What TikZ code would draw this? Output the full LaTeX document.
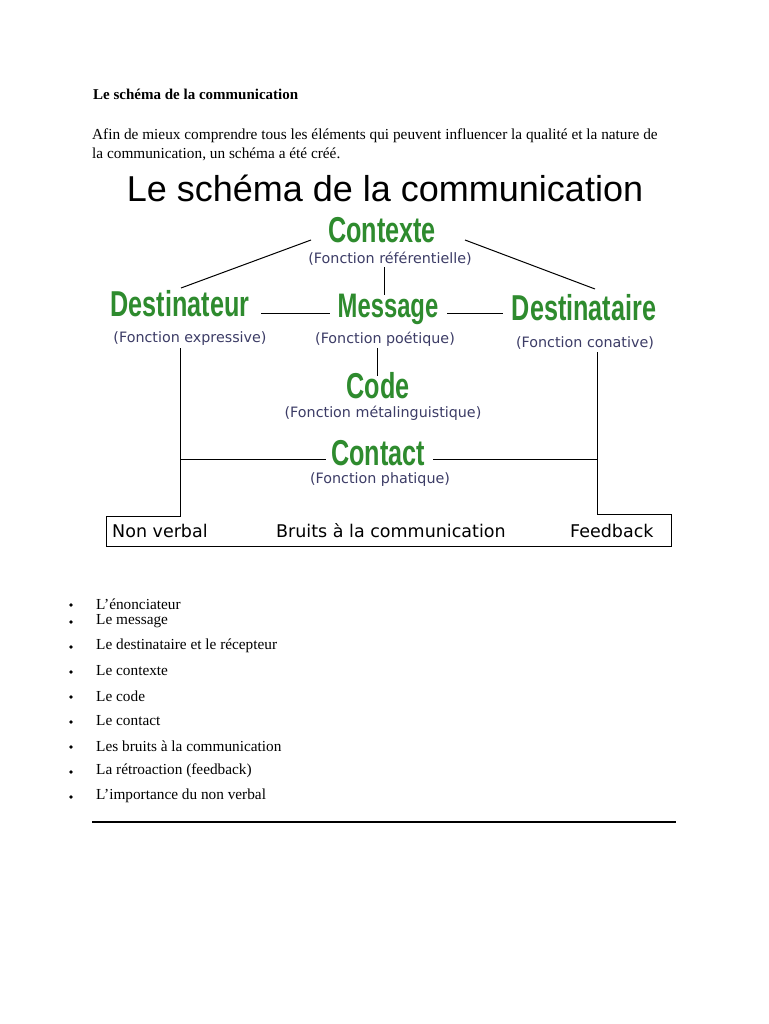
\documentclass[tikz,border=0pt]{standalone}
\usepackage{fontspec}
\setmainfont{Liberation Serif}
\newfontfamily\arialf{Liberation Sans}
\newfontfamily\dejf{DejaVu Sans}
\newfontfamily\condf{Liberation Sans Bold}[FakeStretch=0.7]
\definecolor{grn}{HTML}{2E8B2E}
\definecolor{fnc}{HTML}{3C3C66}
\begin{document}
\begin{tikzpicture}[x=1pt,y=-1pt,
  big/.style={text=grn,font=\condf\fontsize{36}{36}\selectfont,inner sep=0pt},
  fn/.style={text=fnc,font=\dejf\fontsize{14.3}{15}\selectfont,inner sep=0pt},
  boxt/.style={font=\dejf\fontsize{17.5}{18}\selectfont,inner sep=0pt},
  body/.style={font=\fontsize{15.3}{17}\selectfont,anchor=west,inner sep=0pt},
  ln/.style={line width=1pt}]
\useasboundingbox (0,0) rectangle (768,1024);
\fill[white] (0,0) rectangle (768,1024);
\node[body,font=\bfseries\fontsize{15}{17}\selectfont] (t) at (93,94) {Le schéma de la communication};
\node[body] (p1) at (92,136) {Afin de mieux comprendre tous les éléments qui peuvent influencer la qualité et la nature de};
\node[body] (p2) at (92,154) {la communication, un schéma a été créé.};
\node[font=\arialf\fontsize{36}{36}\selectfont,inner sep=0pt] (dt) at (385,188) {Le schéma de la communication};
\node[big] (ctx) at (382,230) {Contexte};
\node[fn] (ctxf) at (390,259) {(Fonction référentielle)};
\node[big] (dst) at (180,304) {Destinateur};
\node[fn] (dstf) at (190,339) {(Fonction expressive)};
\node[big,font=\condf\fontsize{34}{34}\selectfont] (msg) at (388,309) {Message};
\node[fn] (msgf) at (385,339) {(Fonction poétique)};
\node[big] (dta) at (584,308) {Destinataire};
\node[fn] (dtaf) at (585,343) {(Fonction conative)};
\node[big] (code) at (378,386) {Code};
\node[fn] (codef) at (383,413) {(Fonction métalinguistique)};
\node[big] (cont) at (378,453) {Contact};
\node[fn] (contf) at (380,480) {(Fonction phatique)};
\coordinate (cl) at (311,240); \coordinate (cr) at (465,240);
\draw[ln] (cl) -- (181,288);
\draw[ln] (cr) -- (595,289);
\draw[ln] (384,267) -- (384,295);
\draw[ln] (261,313) -- (330,313);
\draw[ln] (447,313) -- (503,313);
\draw[ln] (377,348) -- (377,376);
\draw[ln] (180,459) -- (326,459);
\draw[ln] (433,459) -- (597,459);
\draw[ln] (180,348) -- (180,516) -- (106,516) -- (106,546) -- (671,546) -- (671,514) -- (597,514) -- (597,352);
\node[boxt,anchor=west] (nv) at (112,531) {Non verbal};
\node[boxt,anchor=west] (br) at (276,531) {Bruits à la communication};
\node[boxt,anchor=west] (fb) at (570,531) {Feedback};
\foreach \y/\s [count=\i] in {604/L'énonciateur,621/Le message,646/Le destinataire et le récepteur,671/Le contexte,696/Le code,721/Le contact,746/Les bruits à la communication,771/La rétroaction (feedback),796/L'importance du non verbal}{
  \fill (71,\y+1) circle (1.8);
  \node[body] (b\i) at (96,\y) {\s};
}
\draw[line width=2.5pt] (92,822) -- (676,822);
\end{tikzpicture}
\end{document}
